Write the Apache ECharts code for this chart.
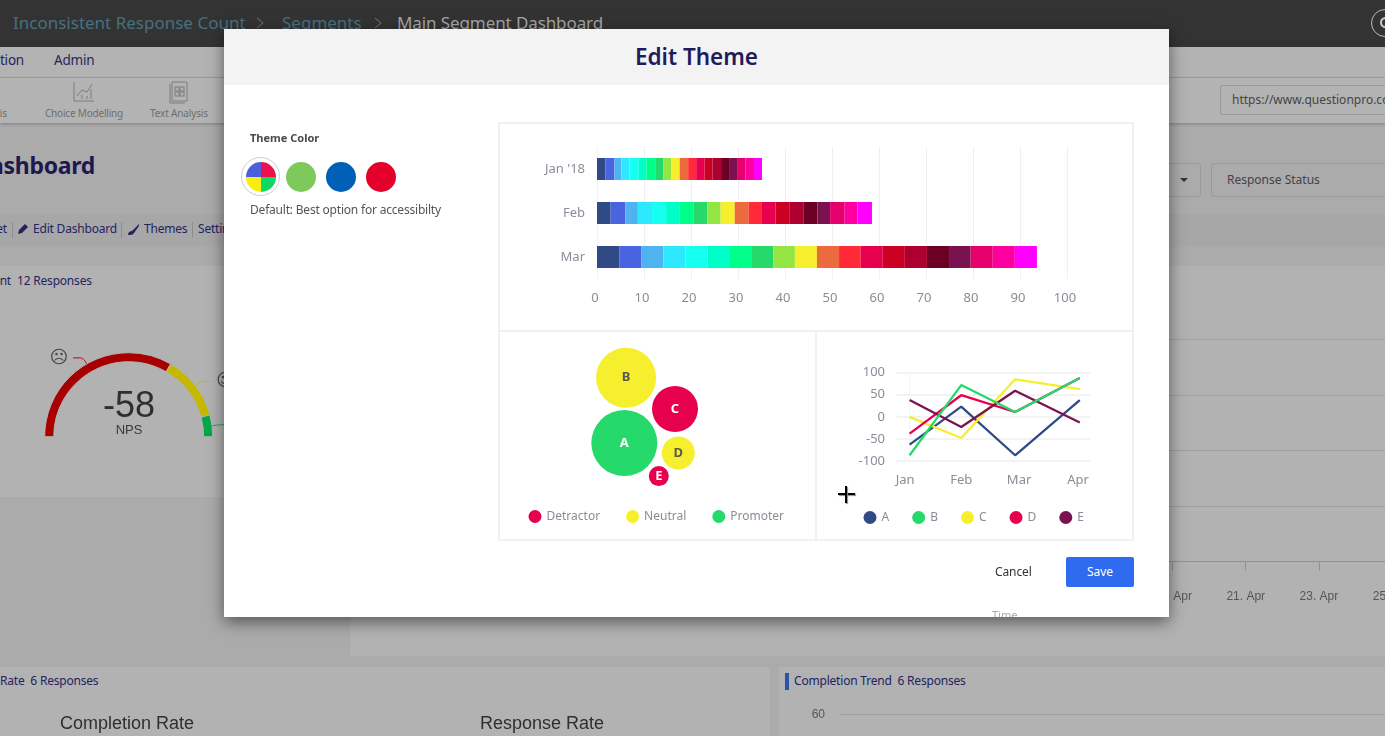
<!DOCTYPE html>
<html>
<head>
<meta charset="utf-8">
<title>Edit Theme</title>
<script src="https://cdn.jsdelivr.net/npm/echarts@6/dist/echarts.min.js"></script>
<style>
  html, body { margin:0; padding:0; width:1385px; height:736px; overflow:hidden; background:#ababab; font-family:"Noto Sans",sans-serif; }
  .box { position:absolute; }
  .t { position:absolute; white-space:nowrap; line-height:1; }
  .navy { color:#23235f; letter-spacing:-.2px; }
  .dot { position:absolute; width:30px; height:30px; border-radius:50%; top:162px; }
</style>
</head>
<body>

<!-- dimmed dashboard behind the dialog -->
<div class="box" style="left:0;top:0;width:1385px;height:47px;background:#333"></div>
<div class="t" style="left:13px;top:14px;font-size:17px;color:#47707f">Inconsistent Response Count</div>
<svg class="box" style="left:255px;top:17px" width="10" height="12" fill="none" stroke="#777"><path d="M2 1L8 6L2 11"/></svg>
<div class="t" style="left:282px;top:14px;font-size:17px;color:#47707f">Segments</div>
<svg class="box" style="left:373px;top:17px" width="10" height="12" fill="none" stroke="#777"><path d="M2 1L8 6L2 11"/></svg>
<div class="t" style="left:397px;top:14px;font-size:17px;letter-spacing:-.1px;color:#a5a5a5">Main Segment Dashboard</div>
<div class="box" style="left:1371px;top:9px;width:26px;height:26px;border:1.5px solid #bbb;border-radius:50%"></div>
<div class="box" style="left:1380px;top:17px;width:7px;height:7px;border:2.5px solid #ccc;border-radius:50%"></div>

<div class="box" style="left:0;top:47px;width:1385px;height:30px;background:#b3b3b3;border-bottom:1px solid #a0a0a0"></div>
<div class="t navy" style="right:1361px;top:54px;font-size:13.5px">tion</div>
<div class="t navy" style="left:54px;top:54px;font-size:13.5px">Admin</div>

<div class="box" style="left:0;top:78px;width:1385px;height:45px;background:#b3b3b3;box-shadow:0 1px 3px rgba(0,0,0,.25)"></div>
<div class="t" style="right:1378px;top:108px;font-size:10px;color:#6e6e6e">is</div>
<svg class="box" style="left:72px;top:81px" width="24" height="22" fill="none" stroke="#7d7d7d">
  <path d="M2 1V20H22M5 15L10 9L15 11L20 3"/><path d="M10 14V18M15 15V18M19 8V18"/>
</svg>
<div class="t" style="left:45px;top:108px;font-size:10px;letter-spacing:-.2px;color:#6e6e6e">Choice Modelling</div>
<svg class="box" style="left:169px;top:81px" width="20" height="23" fill="none" stroke="#7d7d7d">
  <path d="M3 1H18V20H3ZM1 3V22H16"/><rect x="6" y="6" width="4" height="4"/><rect x="11" y="6" width="4" height="4"/><rect x="6" y="11" width="4" height="4"/><rect x="11" y="11" width="4" height="4"/>
</svg>
<div class="t" style="left:150px;top:108px;font-size:10px;letter-spacing:-.15px;color:#6e6e6e">Text Analysis</div>
<div class="box" style="left:1220px;top:85px;width:180px;height:28px;border:1px solid #999;border-radius:2px"></div>
<div class="t" style="left:1232px;top:94px;font-size:12px;color:#444">https://www.questionpro.com</div>

<div class="t" style="right:1290px;top:154px;font-size:23px;letter-spacing:-.3px;font-weight:700;color:#1d1850">Dashboard</div>
<div class="box" style="left:1150px;top:163px;width:49px;height:32px;border:1px solid #999;border-radius:3px"></div>
<div class="box" style="left:1180px;top:178px;border-left:4px solid transparent;border-right:4px solid transparent;border-top:4px solid #333"></div>
<div class="box" style="left:1211px;top:163px;width:190px;height:32px;border:1px solid #999;border-radius:3px"></div>
<div class="t" style="left:1227px;top:174px;font-size:12px;color:#444">Response Status</div>

<div class="box" style="left:0;top:214px;width:1385px;height:33px;background:#a7a7a7"></div>
<div class="t navy" style="right:1378px;top:223px;font-size:12px">et</div>
<div class="box" style="left:12px;top:222px;width:1px;height:16px;background:#8f8f8f"></div>
<svg class="box" style="left:17px;top:223px" width="12" height="12"><path d="M1 11L2 7L8 1L11 4L5 10Z" fill="#23235f"/></svg>
<div class="t navy" style="left:33px;top:223px;font-size:12px">Edit Dashboard</div>
<div class="box" style="left:121px;top:222px;width:1px;height:16px;background:#8f8f8f"></div>
<svg class="box" style="left:127px;top:223px" width="13" height="13"><path d="M1 12C1 9 3 8 5 8L12 1L12 3L7 10C6 12 3 12 1 12Z" fill="#23235f"/></svg>
<div class="t navy" style="left:144px;top:223px;font-size:12px">Themes</div>
<div class="box" style="left:192px;top:222px;width:1px;height:16px;background:#8f8f8f"></div>
<div class="t navy" style="left:198px;top:223px;font-size:12px">Settings</div>

<div class="box" style="left:0;top:266px;width:340px;height:231px;background:#b2b2b2"></div>
<div class="box" style="left:350px;top:266px;width:1035px;height:390px;background:#b2b2b2"></div>
<div class="t navy" style="right:1374px;top:275px;font-size:12px">nt</div>
<div class="t navy" style="left:17px;top:275px;font-size:12px">12 Responses</div>

<div class="box" style="left:0;top:667px;width:770px;height:69px;background:#b2b2b2"></div>
<div class="box" style="left:779px;top:667px;width:606px;height:69px;background:#b2b2b2"></div>
<div class="t navy" style="left:0;top:675px;font-size:12px">Rate&nbsp; 6 Responses</div>
<div class="box" style="left:785px;top:673px;width:4px;height:17px;background:#2a55a8"></div>
<div class="t navy" style="left:794px;top:675px;font-size:12px">Completion Trend&nbsp; 6 Responses</div>

<!-- gauge, trend axes and chart titles of the dashboard -->
<div id="dashboardChart" class="box" style="left:0;top:0;width:1385px;height:736px"></div>

<!-- the dialog -->
<div class="box" style="left:224px;top:29px;width:945px;height:588px;background:#fff;box-shadow:0 5px 15px rgba(0,0,0,.5);overflow:hidden;z-index:5">
  <div class="box" style="left:0;top:0;width:945px;height:56px;background:#f3f3f3"></div>
  <div class="t" style="left:0;width:945px;text-align:center;top:17px;font-size:22.5px;font-weight:600;color:#1f1b5c">Edit Theme</div>
  <div class="t" style="left:768px;top:580px;font-size:11px;color:#aaa">Time</div>
</div>

<div class="box" style="left:224px;top:29px;z-index:6">
  <div class="t" style="left:26px;top:103px;font-size:11px;font-weight:700;color:#4a4a4a">Theme Color</div>
  <div class="box" style="left:17px;top:128px;width:37px;height:37px;border:1px solid #ccc;border-radius:50%"></div>
  <div class="dot" style="left:22px;top:133px;background:conic-gradient(#ee0f4e 0 25%,#0fd860 25% 50%,#f9ec0e 50% 75%,#4a5fdc 75% 100%)"></div>
  <div class="dot" style="left:62px;top:133px;background:#7ec95c"></div>
  <div class="dot" style="left:102px;top:133px;background:#0060b5"></div>
  <div class="dot" style="left:142px;top:133px;background:#e4002b"></div>
  <div class="t" style="left:26px;top:175px;font-size:12px;letter-spacing:-.2px;color:#555">Default: Best option for accessibilty</div>
  <div class="t" style="left:771px;top:537px;font-size:12px;letter-spacing:-.1px;color:#333">Cancel</div>
  <div class="box" style="left:842px;top:528px;width:68px;height:30px;background:#2e6bef;border-radius:2px"></div>
  <div class="t" style="left:842px;width:68px;text-align:center;top:537px;font-size:12px;color:#fff">Save</div>
</div>

<div id="themeChart" class="box" style="left:498px;top:122px;width:632px;height:415px;border:2px solid #f1f1f1;z-index:6"></div>
<div class="box" style="left:500px;top:330px;width:632px;height:2px;background:#f1f1f1;z-index:7"></div>
<div class="box" style="left:815px;top:332px;width:2px;height:207px;background:#f1f1f1;z-index:7"></div>

<!-- mouse pointer caught in the screenshot -->
<div class="box" style="left:838px;top:493px;width:17px;height:2px;background:#000;box-shadow:1px 1px 1px #888;z-index:8"></div>
<div class="box" style="left:845px;top:486px;width:2px;height:17px;background:#000;box-shadow:1px 1px 1px #888;z-index:8"></div>

<script>
// stacked bars, one entry per colour band
var barMonths = ["Jan '18", "Feb", "Mar"];
var janValues = [1.8,1.9,1.5,1.7,2.0,1.6,1.9,1.7,1.7,1.8,1.8,1.7,1.8,1.7,1.8,1.7,1.7,1.8,1.8,1.7];
var febValues = [2.9,3.1,2.7,3.0,3.0,2.8,3.1,2.9,2.8,3.0,3.0,2.8,2.9,2.9,3.1,2.9,2.7,3.1,2.7,3.1];
var marValues = [4.8,4.6,4.7,4.7,4.7,4.6,4.7,4.7,4.6,4.7,4.7,4.6,4.7,4.7,4.7,4.7,4.6,4.7,4.7,4.7];
var barColors = ["#2f4a85","#4a63e0","#4fb3ef","#2de8ff","#16fff0","#00ffc8","#00ff88","#25d96a","#93e544","#f6ef2e",
                 "#ec6a3e","#ff2938","#e6004e","#cc0022","#ad0030","#6b0024","#7a1250","#e6006e","#ff00a0","#ff00ff"];

// bubbles: x, y, size, name
var detractorBubbles = [[55,28.7,46,"C"],[49.6,6.3,20,"E"]];
var neutralBubbles = [[38.7,39.1,60,"B"],[56.1,14,33,"D"]];
var promoterBubbles = [[38.1,17.3,66,"A"]];

// lines
var lineMonths = ["Jan","Feb","Mar","Apr"];
var monthPos = [0,0.91,1.86,3];
var monthLabelPos = [-0.08,0.91,1.93,2.97];
var lineA = [-63,23,-87,38];
var lineB = [-87,72,11,88];
var lineC = [0,-48,85,63];
var lineD = [-38,49,11,88];
var lineE = [38,-23,59,-13];

// gauge behind the dialog
var npsNames = ["Detractor","Neutral","Promoter"];
var npsCounts = [8,3,1];
var npsFaces = ["\u2639","\u263A","\u263A"];
var npsColors = ["#a80000","#c4b800","#00a84a"];

// dashboard trend charts
var trendDays = [];
for (var d=1; d<=30; d++) { trendDays.push(d + ". Apr"); }

var grey = "#8a8d98";
var themeFont = '"Noto Sans",sans-serif';

function makeLine(name, values, color, z){
  var points = [];
  for (var i=0; i<values.length; i++) { points.push([monthPos[i], values[i]]); }
  return { name:name, type:"line", xAxisIndex:2, yAxisIndex:2, data:points, color:color, z:z,
    showSymbol:false, lineStyle:{width:2.3, color:color} };
}

function makeBubbles(name, points, color, labelColor){
  return { name:name, type:"scatter", xAxisIndex:1, yAxisIndex:1, data:points, color:color, clip:false,
    itemStyle:{ opacity:1 },
    symbolSize:function(v){ return v[2]; },
    label:{ show:true, position:"inside", color:labelColor, fontWeight:700, fontSize:13, fontFamily:themeFont,
      formatter:function(p){ return p.data[3]; } } };
}

var themeSeries = [];
for (var i=0; i<barColors.length; i++) {
  themeSeries.push({ name:"band"+(i+1), type:"bar", stack:"months", barWidth:22, color:barColors[i],
    data:[janValues[i], febValues[i], marValues[i]] });
}
themeSeries.push(makeBubbles("Detractor", detractorBubbles, "#e6004e", "#fff"));
themeSeries.push(makeBubbles("Neutral", neutralBubbles, "#f6ef2e", "#5a5a4a"));
themeSeries.push(makeBubbles("Promoter", promoterBubbles, "#25d96a", "#fff"));
themeSeries.push(makeLine("A", lineA, "#2f4a85", 2));
themeSeries.push(makeLine("B", lineB, "#25d96a", 4));
themeSeries.push(makeLine("C", lineC, "#f6ef2e", 2));
themeSeries.push(makeLine("D", lineD, "#e6004e", 2));
themeSeries.push(makeLine("E", lineE, "#7a1250", 3));

var themeChart = echarts.init(document.getElementById("themeChart"));
themeChart.setOption({
  animation:false,
  textStyle:{ fontFamily:themeFont },
  grid:[
    { left:97, top:23, width:470, height:132, outerBoundsMode:"none" },
    { left:10, top:221, width:300, height:150, outerBoundsMode:"none" },
    { left:396, top:248.7, width:194, height:88.3, outerBoundsMode:"none" }
  ],
  legend:[
    { data:["Detractor","Neutral","Promoter"], left:28.5, top:386, padding:0, icon:"circle", itemWidth:13, itemHeight:13, itemGap:26,
      textStyle:{ color:grey, fontSize:12, fontFamily:themeFont } },
    { data:["A","B","C","D","E"], left:363.5, top:387, padding:0, icon:"circle", itemWidth:13, itemHeight:13, itemGap:23,
      textStyle:{ color:grey, fontSize:12, fontFamily:themeFont } }
  ],
  xAxis:[
    { gridIndex:0, type:"value", min:0, max:100, interval:10,
      axisLine:{ lineStyle:{ color:"#f2f2f2", width:2 } }, axisTick:{ show:false },
      splitLine:{ lineStyle:{ color:"#f0f0f2" } },
      axisLabel:{ color:grey, fontSize:13, margin:13, padding:[0,4,0,0] } },
    { gridIndex:1, type:"value", min:0, max:100, show:false },
    { gridIndex:2, type:"value", min:-0.24, max:3.18, splitLine:{ show:false }, axisTick:{ show:false }, axisLine:{ show:false },
      axisLabel:{ color:grey, fontSize:13, margin:13, customValues:monthLabelPos,
        formatter:function(v){ return lineMonths[monthLabelPos.indexOf(v)]; } } }
  ],
  yAxis:[
    { gridIndex:0, type:"category", data:barMonths, inverse:true,
      axisLine:{ lineStyle:{ color:"#f2f2f2" } }, axisTick:{ show:false },
      axisLabel:{ color:grey, fontSize:13, margin:12 } },
    { gridIndex:1, type:"value", min:0, max:50, show:false },
    { gridIndex:2, type:"value", min:-100, max:100, interval:50,
      axisLine:{ show:true, lineStyle:{ color:"#f5f5f5" } }, axisTick:{ show:false },
      splitLine:{ lineStyle:{ color:"#f3f3f3", width:2 } },
      axisLabel:{ color:grey, fontSize:13, margin:11 } }
  ],
  series:themeSeries
});

var npsData = [];
for (var n=0; n<npsCounts.length; n++) {
  npsData.push({ name:npsNames[n], value:npsCounts[n], itemStyle:{ color:npsColors[n] },
    label:{ formatter:npsFaces[n] } });
}
// lower half of the donut stays empty
npsData.push({ name:"rest", value:12, itemStyle:{ color:"transparent", borderWidth:0 }, label:{ show:false }, labelLine:{ show:false } });

var dashboardChart = echarts.init(document.getElementById("dashboardChart"));
dashboardChart.setOption({
  animation:false,
  title:[
    { text:"-58", left:129, top:389, padding:0, textAlign:"center", textStyle:{ fontFamily:"Liberation Sans", fontSize:36, fontWeight:400, color:"#2f2f2f" } },
    { text:"NPS", left:129, top:424, padding:0, textAlign:"center", textStyle:{ fontFamily:"Liberation Sans", fontSize:13, fontWeight:400, color:"#3a3a3a" } },
    { text:"Completion Rate", left:60, top:715, padding:0, textStyle:{ fontFamily:"Liberation Sans", fontSize:18, fontWeight:400, color:"#2f2f2f" } },
    { text:"Response Rate", left:480, top:715, padding:0, textStyle:{ fontFamily:"Liberation Sans", fontSize:18, fontWeight:400, color:"#2f2f2f" } }
  ],
  grid:[
    { left:514, top:339.3, width:1061, height:222.4, outerBoundsMode:"none" },
    { left:840, top:714.7, width:700, height:180, outerBoundsMode:"none" }
  ],
  xAxis:[
    { gridIndex:0, type:"category", data:trendDays, boundaryGap:false, offset:20,
      axisLine:{ lineStyle:{ color:"#8f8fa3" } },
      axisTick:{ interval:1, length:9, lineStyle:{ color:"#8f8fa3" } },
      axisLabel:{ interval:1, color:"#555", fontSize:12, fontFamily:"Liberation Sans", margin:9 } },
    { gridIndex:1, type:"category", data:[], show:false }
  ],
  yAxis:[
    { gridIndex:0, type:"value", min:0, max:4, interval:1, axisLabel:{ show:false }, axisLine:{ show:false }, axisTick:{ show:false },
      splitLine:{ lineStyle:{ color:"#9f9f9f" } } },
    { gridIndex:1, type:"value", min:0, max:60, interval:20, axisLine:{ show:false }, axisTick:{ show:false },
      splitLine:{ lineStyle:{ color:"#9f9f9f" } },
      axisLabel:{ color:"#555", fontSize:12, fontFamily:"Liberation Sans", margin:15, padding:[4,0,0,0] } }
  ],
  series:[
    { name:"NPS", type:"pie", radius:[75,84], center:[128.7,436.7], startAngle:180, avoidLabelOverlap:false, silent:true,
      itemStyle:{ borderColor:"#b2b2b2", borderWidth:1 },
      label:{ show:true, fontFamily:"DejaVu Sans", fontSize:18, color:"#444" },
      labelLine:{ show:true, length:7, length2:10, smooth:true },
      data:npsData }
  ]
});
</script>
</body>
</html>
